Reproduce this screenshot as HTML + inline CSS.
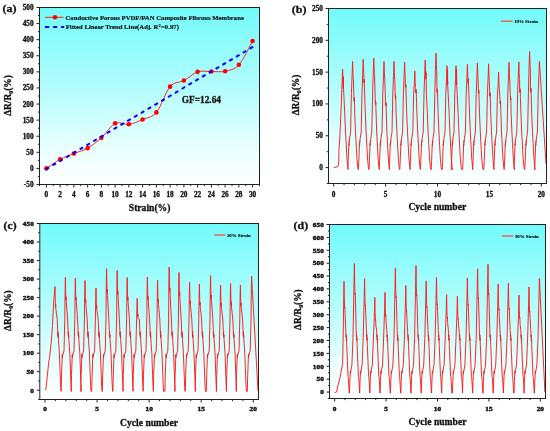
<!DOCTYPE html>
<html><head><meta charset="utf-8"><style>
html,body{margin:0;padding:0;background:#fff;}
body{width:550px;height:431px;overflow:hidden;font-family:"Liberation Serif",serif;}
svg{display:block;will-change:transform;}
text{stroke:#111;stroke-width:0.3px;}
.lg text{stroke-width:0.18px;}
text.sl{stroke:#000;stroke-width:0.1px;}
.sm text{stroke-width:0.42px;}
</style></head><body>
<svg width="550" height="431" viewBox="0 0 550 431">
<rect width="550" height="431" fill="#fff"/>
<defs><linearGradient id="ga" x1="0" y1="0" x2="0" y2="1"><stop offset="0" stop-color="rgb(114,251,251)"/><stop offset="0.5" stop-color="rgb(186,253,253)"/><stop offset="0.8" stop-color="rgb(234,255,255)"/><stop offset="1" stop-color="#ffffff"/></linearGradient></defs>
<rect x="39.5" y="7.5" width="220.0" height="177.0" fill="url(#ga)"/>
<path d="M46.38 168.41 C48.67 166.91 55.54 161.87 60.12 159.40 C64.71 156.93 69.29 155.48 73.88 153.61 C78.46 151.73 83.04 150.76 87.62 148.13 C92.21 145.51 96.79 141.97 101.38 137.84 C105.96 133.71 110.54 125.61 115.12 123.35 C119.71 121.10 124.29 124.96 128.88 124.32 C133.46 123.68 138.04 121.48 142.62 119.49 C147.21 117.51 151.79 117.88 156.38 112.41 C160.96 106.94 165.54 91.98 170.12 86.67 C174.71 81.36 179.29 83.02 183.88 80.55 C188.46 78.09 193.04 73.37 197.62 71.86 C202.21 70.36 206.79 71.65 211.38 71.54 C215.96 71.43 220.54 72.35 225.12 71.22 C229.71 70.09 234.29 69.83 238.88 64.78 C243.46 59.74 250.33 44.94 252.62 40.97" stroke="#ff2020" stroke-width="1" fill="none"/>
<circle cx="46.38" cy="168.41" r="2.3" fill="#ff0000"/>
<circle cx="60.12" cy="159.40" r="2.3" fill="#ff0000"/>
<circle cx="73.88" cy="153.61" r="2.3" fill="#ff0000"/>
<circle cx="87.62" cy="148.13" r="2.3" fill="#ff0000"/>
<circle cx="101.38" cy="137.84" r="2.3" fill="#ff0000"/>
<circle cx="115.12" cy="123.35" r="2.3" fill="#ff0000"/>
<circle cx="128.88" cy="124.32" r="2.3" fill="#ff0000"/>
<circle cx="142.62" cy="119.49" r="2.3" fill="#ff0000"/>
<circle cx="156.38" cy="112.41" r="2.3" fill="#ff0000"/>
<circle cx="170.12" cy="86.67" r="2.3" fill="#ff0000"/>
<circle cx="183.88" cy="80.55" r="2.3" fill="#ff0000"/>
<circle cx="197.62" cy="71.86" r="2.3" fill="#ff0000"/>
<circle cx="211.38" cy="71.54" r="2.3" fill="#ff0000"/>
<circle cx="225.12" cy="71.22" r="2.3" fill="#ff0000"/>
<circle cx="238.88" cy="64.78" r="2.3" fill="#ff0000"/>
<circle cx="252.62" cy="40.97" r="2.3" fill="#ff0000"/>
<line x1="45.69" y1="169.46" x2="253.31" y2="46.61" stroke="#0000ff" stroke-width="2.0" stroke-dasharray="4 3.9"/>
<line x1="45" y1="17.3" x2="63.6" y2="17.3" stroke="#ff2020" stroke-width="1"/>
<circle cx="54.9" cy="17.3" r="2.3" fill="#ff0000"/>
<line x1="45" y1="27" x2="64.2" y2="27" stroke="#0000ff" stroke-width="2.2" stroke-dasharray="4.2 3.8"/>
<g class="lg" font-family='"Liberation Serif", serif' font-weight="bold" font-size="7.15" fill="#111"><text x="65.5" y="19.7" textLength="178.4" lengthAdjust="spacingAndGlyphs">Conductive Porous PVDF/PAN Composite Fibrous Membrane</text><text x="65.7" y="29.4" textLength="92.6" lengthAdjust="spacingAndGlyphs">Fitted Linear Trend Line(Adj. R</text><text x="158.4" y="26.7" font-size="4.6">2</text><text x="161.0" y="29.4" textLength="17.9" lengthAdjust="spacingAndGlyphs">=0.97)</text></g>
<text x="181.8" y="102.6" font-family='"Liberation Serif", serif' font-weight="bold" font-size="9.3" fill="#111">GF=12.64</text>
<rect x="39.5" y="7.5" width="220.0" height="177.0" fill="none" stroke="#222" stroke-width="1"/>
<path d="M39.50 184.5v1.6 M46.38 184.5v3 M53.25 184.5v1.6 M60.12 184.5v3 M67.00 184.5v1.6 M73.88 184.5v3 M80.75 184.5v1.6 M87.62 184.5v3 M94.50 184.5v1.6 M101.38 184.5v3 M108.25 184.5v1.6 M115.12 184.5v3 M122.00 184.5v1.6 M128.88 184.5v3 M135.75 184.5v1.6 M142.62 184.5v3 M149.50 184.5v1.6 M156.38 184.5v3 M163.25 184.5v1.6 M170.12 184.5v3 M177.00 184.5v1.6 M183.88 184.5v3 M190.75 184.5v1.6 M197.62 184.5v3 M204.50 184.5v1.6 M211.38 184.5v3 M218.25 184.5v1.6 M225.12 184.5v3 M232.00 184.5v1.6 M238.88 184.5v3 M245.75 184.5v1.6 M252.62 184.5v3 M259.50 184.5v1.6 M39.5 184.50h-3 M39.5 176.45h-1.6 M39.5 168.41h-3 M39.5 160.36h-1.6 M39.5 152.32h-3 M39.5 144.27h-1.6 M39.5 136.23h-3 M39.5 128.18h-1.6 M39.5 120.14h-3 M39.5 112.09h-1.6 M39.5 104.05h-3 M39.5 96.00h-1.6 M39.5 87.95h-3 M39.5 79.91h-1.6 M39.5 71.86h-3 M39.5 63.82h-1.6 M39.5 55.77h-3 M39.5 47.73h-1.6 M39.5 39.68h-3 M39.5 31.64h-1.6 M39.5 23.59h-3 M39.5 15.55h-1.6 M39.5 7.50h-3" stroke="#222" stroke-width="1" fill="none"/>
<g font-family='"Liberation Serif", serif' font-weight="bold" font-size="7.4" fill="#111"><text x="46.38" y="196.6" text-anchor="middle" textLength="3.65" lengthAdjust="spacingAndGlyphs">0</text><text x="60.12" y="196.6" text-anchor="middle" textLength="3.65" lengthAdjust="spacingAndGlyphs">2</text><text x="73.88" y="196.6" text-anchor="middle" textLength="3.65" lengthAdjust="spacingAndGlyphs">4</text><text x="87.62" y="196.6" text-anchor="middle" textLength="3.65" lengthAdjust="spacingAndGlyphs">6</text><text x="101.38" y="196.6" text-anchor="middle" textLength="3.65" lengthAdjust="spacingAndGlyphs">8</text><text x="115.12" y="196.6" text-anchor="middle" textLength="7.30" lengthAdjust="spacingAndGlyphs">10</text><text x="128.88" y="196.6" text-anchor="middle" textLength="7.30" lengthAdjust="spacingAndGlyphs">12</text><text x="142.62" y="196.6" text-anchor="middle" textLength="7.30" lengthAdjust="spacingAndGlyphs">14</text><text x="156.38" y="196.6" text-anchor="middle" textLength="7.30" lengthAdjust="spacingAndGlyphs">16</text><text x="170.12" y="196.6" text-anchor="middle" textLength="7.30" lengthAdjust="spacingAndGlyphs">18</text><text x="183.88" y="196.6" text-anchor="middle" textLength="7.30" lengthAdjust="spacingAndGlyphs">20</text><text x="197.62" y="196.6" text-anchor="middle" textLength="7.30" lengthAdjust="spacingAndGlyphs">22</text><text x="211.38" y="196.6" text-anchor="middle" textLength="7.30" lengthAdjust="spacingAndGlyphs">24</text><text x="225.12" y="196.6" text-anchor="middle" textLength="7.30" lengthAdjust="spacingAndGlyphs">26</text><text x="238.88" y="196.6" text-anchor="middle" textLength="7.30" lengthAdjust="spacingAndGlyphs">28</text><text x="252.62" y="196.6" text-anchor="middle" textLength="7.30" lengthAdjust="spacingAndGlyphs">30</text><text x="33.6" y="187.00" text-anchor="end" textLength="9.73" lengthAdjust="spacingAndGlyphs">-50</text><text x="33.6" y="170.91" text-anchor="end" textLength="3.65" lengthAdjust="spacingAndGlyphs">0</text><text x="33.6" y="154.82" text-anchor="end" textLength="7.30" lengthAdjust="spacingAndGlyphs">50</text><text x="33.6" y="138.73" text-anchor="end" textLength="10.95" lengthAdjust="spacingAndGlyphs">100</text><text x="33.6" y="122.64" text-anchor="end" textLength="10.95" lengthAdjust="spacingAndGlyphs">150</text><text x="33.6" y="106.55" text-anchor="end" textLength="10.95" lengthAdjust="spacingAndGlyphs">200</text><text x="33.6" y="90.45" text-anchor="end" textLength="10.95" lengthAdjust="spacingAndGlyphs">250</text><text x="33.6" y="74.36" text-anchor="end" textLength="10.95" lengthAdjust="spacingAndGlyphs">300</text><text x="33.6" y="58.27" text-anchor="end" textLength="10.95" lengthAdjust="spacingAndGlyphs">350</text><text x="33.6" y="42.18" text-anchor="end" textLength="10.95" lengthAdjust="spacingAndGlyphs">400</text><text x="33.6" y="26.09" text-anchor="end" textLength="10.95" lengthAdjust="spacingAndGlyphs">450</text><text x="33.6" y="10.00" text-anchor="end" textLength="10.95" lengthAdjust="spacingAndGlyphs">500</text></g>
<text transform="translate(10.8,95.5) rotate(-90)" text-anchor="middle" font-family='"Liberation Serif", serif' font-weight="bold" font-size="9.4" fill="#111">&#916;R/R<tspan font-size="5.83" dy="2">0</tspan><tspan dy="-2">(%)</tspan></text>
<text x="149.6" y="210.5" text-anchor="middle" font-family='"Liberation Serif", serif' font-weight="bold" font-size="9.6" fill="#111">Strain(%)</text>
<text x="2.5" y="12.0" font-family='"Liberation Serif", serif' font-weight="bold" font-size="11.2" fill="#111" textLength="14.0" lengthAdjust="spacingAndGlyphs">(a)</text>
<defs><linearGradient id="gb" x1="0" y1="0" x2="0" y2="1"><stop offset="0" stop-color="rgb(114,251,251)"/><stop offset="0.5" stop-color="rgb(186,253,253)"/><stop offset="0.8" stop-color="rgb(234,255,255)"/><stop offset="1" stop-color="#ffffff"/></linearGradient></defs>
<rect x="328.5" y="8.5" width="218.0" height="175.0" fill="url(#gb)"/>
<path d="M333.69 167.59 L337.64 166.64 L338.36 165.05 L338.78 161.23 L338.98 149.77 L339.92 135.77 L341.16 107.14 L342.60 69.27 L343.00 80.73 L343.20 85.82 L343.40 87.09 L343.11 88.36 L343.21 76.59 L343.31 80.41 L343.41 78.50 L343.56 89.64 L343.80 93.77 L344.70 112.86 L345.50 131.95 L346.90 158.05 L347.80 167.59 L348.20 169.50 L347.80 169.50 L348.20 161.23 L348.90 143.41 L349.00 145.32 L349.15 140.86 L349.30 142.14 L349.50 138.95 L350.60 131.95 L351.40 93.77 L352.10 75.45 L352.60 61.45 L353.00 72.90 L353.20 77.99 L353.40 79.26 L353.88 96.95 L354.13 100.77 L354.23 97.59 L354.33 101.41 L354.43 99.50 L354.58 105.23 L354.70 112.86 L355.50 131.95 L356.90 158.05 L357.80 167.59 L358.20 169.50 L358.40 169.50 L358.80 161.23 L359.50 143.41 L359.60 145.32 L359.75 140.86 L359.90 142.14 L360.10 138.95 L361.20 131.95 L362.00 93.77 L362.70 73.41 L363.20 59.41 L363.60 70.86 L363.80 75.95 L364.00 77.23 L364.00 82.32 L364.10 79.14 L364.20 82.95 L364.30 81.05 L364.45 86.77 L365.30 112.86 L366.10 131.95 L367.50 158.05 L368.40 167.59 L368.80 169.50 L369.00 169.50 L369.40 161.23 L370.10 143.41 L370.20 145.32 L370.35 140.86 L370.50 142.14 L370.70 138.95 L371.80 131.95 L372.60 93.77 L373.30 72.26 L373.80 58.26 L374.20 69.72 L374.40 74.81 L374.60 76.08 L375.23 100.14 L375.48 103.95 L375.58 100.77 L375.68 104.59 L375.78 102.68 L375.93 108.41 L376.70 131.95 L378.10 158.05 L379.00 167.59 L379.40 169.50 L379.20 169.50 L379.60 161.23 L380.30 143.41 L380.40 145.32 L380.55 140.86 L380.70 142.14 L380.90 138.95 L382.00 131.95 L382.80 93.77 L383.50 75.45 L384.00 61.45 L384.40 72.90 L384.60 77.99 L384.80 79.26 L385.49 101.41 L385.74 105.23 L385.84 102.05 L385.94 105.86 L386.04 103.95 L386.19 109.68 L386.90 131.95 L388.30 158.05 L389.20 167.59 L389.60 169.50 L389.20 169.50 L389.60 161.23 L390.30 143.41 L390.40 145.32 L390.55 140.86 L390.70 142.14 L390.90 138.95 L392.00 131.95 L392.80 93.77 L393.50 75.45 L394.00 61.45 L394.40 72.90 L394.60 77.99 L394.80 79.26 L395.13 93.77 L395.38 97.59 L395.48 94.41 L395.58 98.23 L395.68 96.32 L395.83 102.05 L396.10 112.86 L396.90 131.95 L398.30 158.05 L399.20 167.59 L399.60 169.50 L399.80 169.50 L400.20 161.23 L400.90 143.41 L401.00 145.32 L401.15 140.86 L401.30 142.14 L401.50 138.95 L402.60 131.95 L403.40 93.77 L404.10 75.95 L404.60 61.95 L405.00 73.41 L405.20 78.50 L405.40 79.77 L405.29 82.95 L405.54 86.77 L405.64 83.59 L405.74 87.41 L405.84 85.50 L405.99 91.23 L406.70 112.86 L407.50 131.95 L408.90 158.05 L409.80 167.59 L410.20 169.50 L410.00 169.50 L410.40 161.23 L411.10 143.41 L411.20 145.32 L411.35 140.86 L411.50 142.14 L411.70 138.95 L412.80 131.95 L413.60 93.77 L414.30 84.86 L414.80 70.86 L415.20 82.32 L415.40 87.41 L415.60 88.68 L415.68 89.95 L415.93 92.50 L416.03 89.32 L416.13 93.14 L416.23 91.23 L416.38 96.95 L416.90 112.86 L417.70 131.95 L419.10 158.05 L420.00 167.59 L420.40 169.50 L420.40 169.50 L420.80 161.23 L421.50 143.41 L421.60 145.32 L421.75 140.86 L421.90 142.14 L422.10 138.95 L423.20 131.95 L424.00 93.77 L424.70 74.05 L425.20 60.05 L425.60 71.50 L425.80 76.59 L426.00 77.86 L425.72 79.14 L425.82 71.50 L425.92 75.32 L426.02 73.41 L426.17 80.41 L426.40 93.77 L427.30 112.86 L428.10 131.95 L429.50 158.05 L430.40 167.59 L430.80 169.50 L431.20 169.50 L431.60 161.23 L432.30 143.41 L432.40 145.32 L432.55 140.86 L432.70 142.14 L432.90 138.95 L434.00 131.95 L434.80 93.77 L435.50 67.05 L436.00 53.05 L436.40 64.50 L436.60 69.59 L436.80 70.86 L436.89 88.05 L437.14 91.86 L437.24 88.68 L437.34 92.50 L437.44 90.59 L437.59 96.32 L438.10 112.86 L438.90 131.95 L440.30 158.05 L441.20 167.59 L441.60 169.50 L442.20 169.50 L442.60 161.23 L443.30 143.41 L443.40 145.32 L443.55 140.86 L443.70 142.14 L443.90 138.95 L445.00 131.95 L445.80 93.77 L446.50 79.77 L447.00 65.77 L447.40 77.23 L447.60 82.32 L447.80 83.59 L447.27 84.86 L447.37 68.95 L447.47 72.77 L447.57 70.86 L447.72 86.14 L448.20 93.77 L449.10 112.86 L449.90 131.95 L451.30 158.05 L452.20 167.59 L452.60 169.50 L451.20 169.50 L451.60 161.23 L452.30 143.41 L452.40 145.32 L452.55 140.86 L452.70 142.14 L452.90 138.95 L454.00 131.95 L454.80 93.77 L455.50 79.77 L456.00 65.77 L456.40 77.23 L456.60 82.32 L456.80 83.59 L456.27 84.86 L456.37 68.95 L456.47 72.77 L456.57 70.86 L456.72 86.14 L457.20 93.77 L458.10 112.86 L458.90 131.95 L460.30 158.05 L461.20 167.59 L461.60 169.50 L462.60 169.50 L463.00 161.23 L463.70 143.41 L463.80 145.32 L463.95 140.86 L464.10 142.14 L464.30 138.95 L465.40 131.95 L466.20 93.77 L466.90 78.50 L467.40 64.50 L467.80 75.95 L468.00 81.05 L468.20 82.32 L468.10 83.59 L468.20 78.50 L468.30 82.32 L468.40 80.41 L468.55 86.14 L469.50 112.86 L470.30 131.95 L471.70 158.05 L472.60 167.59 L473.00 169.50 L472.60 169.50 L473.00 161.23 L473.70 143.41 L473.80 145.32 L473.95 140.86 L474.10 142.14 L474.30 138.95 L475.40 131.95 L476.20 93.77 L476.90 76.85 L477.40 62.85 L477.80 74.30 L478.00 79.39 L478.20 80.66 L478.30 88.68 L478.55 92.50 L478.65 89.32 L478.75 93.14 L478.85 91.23 L479.00 96.95 L479.50 112.86 L480.30 131.95 L481.70 158.05 L482.60 167.59 L483.00 169.50 L483.80 169.50 L484.20 161.23 L484.90 143.41 L485.00 145.32 L485.15 140.86 L485.30 142.14 L485.50 138.95 L486.60 131.95 L487.40 93.77 L488.10 77.86 L488.60 63.86 L489.00 75.32 L489.20 80.41 L489.40 81.68 L489.64 91.86 L489.89 95.68 L489.99 92.50 L490.09 96.32 L490.19 94.41 L490.34 100.14 L490.70 112.86 L491.50 131.95 L492.90 158.05 L493.80 167.59 L494.20 169.50 L493.80 169.50 L494.20 161.23 L494.90 143.41 L495.00 145.32 L495.15 140.86 L495.30 142.14 L495.50 138.95 L496.60 131.95 L497.40 93.77 L498.10 86.14 L498.60 72.14 L499.00 83.59 L499.20 88.68 L499.40 89.95 L500.03 100.14 L500.28 103.95 L500.38 100.77 L500.48 104.59 L500.58 102.68 L500.73 108.41 L501.50 131.95 L502.90 158.05 L503.80 167.59 L504.20 169.50 L504.20 169.50 L504.60 161.23 L505.30 143.41 L505.40 145.32 L505.55 140.86 L505.70 142.14 L505.90 138.95 L507.00 131.95 L507.80 93.77 L508.50 76.27 L509.00 62.27 L509.40 73.73 L509.60 78.82 L509.80 80.09 L510.22 95.68 L510.47 99.50 L510.57 96.32 L510.67 100.14 L510.77 98.23 L510.92 103.95 L511.10 112.86 L511.90 131.95 L513.30 158.05 L514.20 167.59 L514.60 169.50 L514.00 169.50 L514.40 161.23 L515.10 143.41 L515.20 145.32 L515.35 140.86 L515.50 142.14 L515.70 138.95 L516.80 131.95 L517.60 93.77 L518.30 75.95 L518.80 61.95 L519.20 73.41 L519.40 78.50 L519.60 79.77 L519.68 88.05 L519.93 91.86 L520.03 88.68 L520.13 92.50 L520.23 90.59 L520.38 96.32 L520.90 112.86 L521.70 131.95 L523.10 158.05 L524.00 167.59 L524.40 169.50 L524.80 169.50 L525.20 161.23 L525.90 143.41 L526.00 145.32 L526.15 140.86 L526.30 142.14 L526.50 138.95 L527.60 131.95 L528.40 93.77 L529.10 65.52 L529.60 51.52 L530.00 62.97 L530.20 68.06 L530.40 69.34 L530.48 87.41 L530.73 91.23 L530.83 88.05 L530.93 91.86 L531.03 89.95 L531.18 95.68 L531.70 112.86 L532.50 131.95 L533.90 158.05 L534.80 167.59 L535.20 169.50 L534.60 169.50 L535.00 161.23 L535.70 143.41 L535.80 145.32 L535.95 140.86 L536.10 142.14 L536.30 138.95 L537.40 131.95 L538.20 93.77 L538.90 75.45 L539.40 61.45 L546.00 163.77" stroke="#ff1a1a" stroke-width="0.95" fill="none" stroke-linejoin="round"/>
<line x1="501" y1="21.2" x2="512.6" y2="21.2" stroke="#ff4030" stroke-width="1.2"/>
<text class="sl" x="514.2" y="22.7" font-family='"Liberation Serif", serif' font-weight="bold" font-size="4.85" fill="#000">10% Strain</text>
<rect x="328.5" y="8.5" width="218.0" height="175.0" fill="none" stroke="#222" stroke-width="1"/>
<path d="M333.69 183.5v3 M344.07 183.5v1.6 M354.45 183.5v1.6 M364.83 183.5v1.6 M375.21 183.5v1.6 M385.60 183.5v3 M395.98 183.5v1.6 M406.36 183.5v1.6 M416.74 183.5v1.6 M427.12 183.5v1.6 M437.50 183.5v3 M447.88 183.5v1.6 M458.26 183.5v1.6 M468.64 183.5v1.6 M479.02 183.5v1.6 M489.40 183.5v3 M499.79 183.5v1.6 M510.17 183.5v1.6 M520.55 183.5v1.6 M530.93 183.5v1.6 M541.31 183.5v3 M328.5 183.50h-1.6 M328.5 167.59h-3 M328.5 151.68h-1.6 M328.5 135.77h-3 M328.5 119.86h-1.6 M328.5 103.95h-3 M328.5 88.05h-1.6 M328.5 72.14h-3 M328.5 56.23h-1.6 M328.5 40.32h-3 M328.5 24.41h-1.6 M328.5 8.50h-3" stroke="#222" stroke-width="1" fill="none"/>
<g font-family='"Liberation Serif", serif' font-weight="bold" font-size="7.4" fill="#111"><text x="333.69" y="196.7" text-anchor="middle" textLength="3.65" lengthAdjust="spacingAndGlyphs">0</text><text x="385.60" y="196.7" text-anchor="middle" textLength="3.65" lengthAdjust="spacingAndGlyphs">5</text><text x="437.50" y="196.7" text-anchor="middle" textLength="7.30" lengthAdjust="spacingAndGlyphs">10</text><text x="489.40" y="196.7" text-anchor="middle" textLength="7.30" lengthAdjust="spacingAndGlyphs">15</text><text x="541.31" y="196.7" text-anchor="middle" textLength="7.30" lengthAdjust="spacingAndGlyphs">20</text><text x="323.0" y="170.09" text-anchor="end" textLength="3.65" lengthAdjust="spacingAndGlyphs">0</text><text x="323.0" y="138.27" text-anchor="end" textLength="7.30" lengthAdjust="spacingAndGlyphs">50</text><text x="323.0" y="106.45" text-anchor="end" textLength="10.95" lengthAdjust="spacingAndGlyphs">100</text><text x="323.0" y="74.64" text-anchor="end" textLength="10.95" lengthAdjust="spacingAndGlyphs">150</text><text x="323.0" y="42.82" text-anchor="end" textLength="10.95" lengthAdjust="spacingAndGlyphs">200</text><text x="323.0" y="11.00" text-anchor="end" textLength="10.95" lengthAdjust="spacingAndGlyphs">250</text></g>
<text transform="translate(298.5,95.0) rotate(-90)" text-anchor="middle" font-family='"Liberation Serif", serif' font-weight="bold" font-size="9.4" fill="#111">&#916;R/R<tspan font-size="5.83" dy="2">0</tspan><tspan dy="-2">(%)</tspan></text>
<text x="437.3" y="209.7" text-anchor="middle" font-family='"Liberation Serif", serif' font-weight="bold" font-size="9.6" fill="#111">Cycle number</text>
<text x="291.8" y="12.8" font-family='"Liberation Serif", serif' font-weight="bold" font-size="11.2" fill="#111" textLength="14.6" lengthAdjust="spacingAndGlyphs">(b)</text>
<defs><linearGradient id="gc" x1="0" y1="0" x2="0" y2="1"><stop offset="0" stop-color="rgb(114,251,251)"/><stop offset="0.5" stop-color="rgb(186,253,253)"/><stop offset="0.8" stop-color="rgb(234,255,255)"/><stop offset="1" stop-color="#ffffff"/></linearGradient></defs>
<rect x="39.8" y="223.5" width="218.7" height="176.0" fill="url(#gc)"/>
<path d="M45.01 390.24 L45.63 389.87 L46.05 388.01 L48.13 368.01 L48.96 360.59 L49.38 359.11 L51.26 342.07 L52.51 325.39 L53.55 303.16 L55.00 286.60 L55.30 301.11 L55.50 307.33 L55.70 304.22 L55.90 309.40 L57.20 319.10 L57.70 330.95 L57.85 335.40 L58.00 331.69 L58.15 337.62 L58.30 334.66 L58.50 339.85 L59.40 353.18 L60.50 382.83 L61.00 391.35 L61.10 391.35 L61.50 375.42 L62.10 359.11 L62.25 354.67 L62.40 357.63 L62.55 353.93 L62.70 355.04 L64.00 350.96 L64.80 319.10 L65.10 290.95 L65.40 277.41 L65.70 293.21 L65.90 299.98 L66.10 296.59 L66.30 302.23 L67.60 319.10 L68.10 330.95 L68.25 335.40 L68.40 331.69 L68.55 337.62 L68.70 334.66 L68.90 339.85 L69.80 353.18 L70.90 382.83 L71.40 391.35 L71.10 391.35 L71.50 375.42 L72.10 359.11 L72.25 354.67 L72.40 357.63 L72.55 353.93 L72.70 355.04 L74.00 350.96 L74.80 319.10 L75.10 291.44 L75.40 277.97 L75.70 293.69 L75.90 300.42 L76.10 297.05 L76.30 302.67 L77.60 319.10 L78.10 330.95 L78.25 335.40 L78.40 331.69 L78.55 337.62 L78.70 334.66 L78.90 339.85 L79.80 353.18 L80.90 382.83 L81.40 391.35 L80.70 391.35 L81.10 375.42 L81.70 359.11 L81.85 354.67 L82.00 357.63 L82.15 353.93 L82.30 355.04 L83.60 350.96 L84.40 319.10 L84.70 293.72 L85.00 280.56 L85.30 295.92 L85.50 302.50 L85.70 299.21 L85.90 304.69 L87.20 319.10 L87.70 330.95 L87.85 335.40 L88.00 331.69 L88.15 337.62 L88.30 334.66 L88.50 339.85 L89.40 353.18 L90.50 382.83 L91.00 391.35 L91.70 391.35 L92.10 375.42 L92.70 359.11 L92.85 354.67 L93.00 357.63 L93.15 353.93 L93.30 355.04 L94.60 350.96 L95.40 319.10 L95.70 300.24 L96.00 287.97 L96.30 302.29 L96.50 308.42 L96.70 305.36 L96.90 310.47 L98.20 319.10 L98.70 330.95 L98.85 335.40 L99.00 331.69 L99.15 337.62 L99.30 334.66 L99.50 339.85 L100.40 353.18 L101.50 382.83 L102.00 391.35 L102.30 391.35 L102.70 375.42 L103.30 359.11 L103.45 354.67 L103.60 357.63 L103.75 353.93 L103.90 355.04 L105.20 350.96 L106.00 319.10 L106.30 283.29 L106.60 268.70 L106.90 285.72 L107.10 293.01 L107.30 289.36 L107.50 295.44 L108.80 319.10 L109.30 330.95 L109.45 335.40 L109.60 331.69 L109.75 337.62 L109.90 334.66 L110.10 339.85 L111.00 353.18 L112.10 382.83 L112.60 391.35 L112.90 391.35 L113.30 375.42 L113.90 359.11 L114.05 354.67 L114.20 357.63 L114.35 353.93 L114.50 355.04 L115.80 350.96 L116.60 319.10 L116.90 284.92 L117.20 270.56 L117.50 287.31 L117.70 294.49 L117.90 290.90 L118.10 296.89 L119.40 319.10 L119.90 330.95 L120.05 335.40 L120.20 331.69 L120.35 337.62 L120.50 334.66 L120.70 339.85 L121.60 353.18 L122.70 382.83 L123.20 391.35 L122.90 391.35 L123.30 375.42 L123.90 359.11 L124.05 354.67 L124.20 357.63 L124.35 353.93 L124.50 355.04 L125.80 350.96 L126.60 319.10 L126.90 291.11 L127.20 277.60 L127.50 293.37 L127.70 300.12 L127.90 296.75 L128.10 302.38 L129.40 319.10 L129.90 330.95 L130.05 335.40 L130.20 331.69 L130.35 337.62 L130.50 334.66 L130.70 339.85 L131.60 353.18 L132.70 382.83 L133.20 391.35 L132.90 391.35 L133.30 375.42 L133.90 359.11 L134.05 354.67 L134.20 357.63 L134.35 353.93 L134.50 355.04 L135.80 350.96 L136.60 319.10 L136.90 309.37 L137.20 298.35 L137.50 311.21 L137.70 316.72 L137.90 313.97 L138.10 318.56 L139.40 319.30 L139.90 330.95 L140.05 335.40 L140.20 331.69 L140.35 337.62 L140.50 334.66 L140.70 339.85 L141.60 353.18 L142.70 382.83 L143.20 391.35 L143.10 391.35 L143.50 375.42 L144.10 359.11 L144.25 354.67 L144.40 357.63 L144.55 353.93 L144.70 355.04 L146.00 350.96 L146.80 319.10 L147.10 290.59 L147.40 277.00 L147.70 292.86 L147.90 299.65 L148.10 296.25 L148.30 301.92 L149.60 319.10 L150.10 330.95 L150.25 335.40 L150.40 331.69 L150.55 337.62 L150.70 334.66 L150.90 339.85 L151.80 353.18 L152.90 382.83 L153.40 391.35 L153.30 391.35 L153.70 375.42 L154.30 359.11 L154.45 354.67 L154.60 357.63 L154.75 353.93 L154.90 355.04 L156.20 350.96 L157.00 319.10 L157.30 293.56 L157.60 280.38 L157.90 295.76 L158.10 302.35 L158.30 299.05 L158.50 304.55 L159.80 319.10 L160.30 330.95 L160.45 335.40 L160.60 331.69 L160.75 337.62 L160.90 334.66 L161.10 339.85 L162.00 353.18 L163.10 382.83 L163.60 391.35 L164.90 391.35 L165.30 375.42 L165.90 359.11 L166.05 354.67 L166.20 357.63 L166.35 353.93 L166.50 355.04 L167.80 350.96 L168.60 319.10 L168.90 281.79 L169.20 267.00 L169.50 284.25 L169.70 291.65 L169.90 287.95 L170.10 294.11 L171.40 319.10 L171.90 330.95 L172.05 335.40 L172.20 331.69 L172.35 337.62 L172.50 334.66 L172.70 339.85 L173.60 353.18 L174.70 382.83 L175.20 391.35 L174.70 391.35 L175.10 375.42 L175.70 359.11 L175.85 354.67 L176.00 357.63 L176.15 353.93 L176.30 355.04 L177.60 350.96 L178.40 319.10 L178.70 286.55 L179.00 272.41 L179.30 288.91 L179.50 295.97 L179.70 292.44 L179.90 298.33 L181.20 319.10 L181.70 330.95 L181.85 335.40 L182.00 331.69 L182.15 337.62 L182.30 334.66 L182.50 339.85 L183.40 353.18 L184.50 382.83 L185.00 391.35 L185.30 391.35 L185.70 375.42 L186.30 359.11 L186.45 354.67 L186.60 357.63 L186.75 353.93 L186.90 355.04 L188.20 350.96 L189.00 319.10 L189.30 295.35 L189.60 282.41 L189.90 297.51 L190.10 303.98 L190.30 300.74 L190.50 306.13 L191.80 319.10 L192.30 330.95 L192.45 335.40 L192.60 331.69 L192.75 337.62 L192.90 334.66 L193.10 339.85 L194.00 353.18 L195.10 382.83 L195.60 391.35 L195.10 391.35 L195.50 375.42 L196.10 359.11 L196.25 354.67 L196.40 357.63 L196.55 353.93 L196.70 355.04 L198.00 350.96 L198.80 319.10 L199.10 296.72 L199.40 283.97 L199.70 298.85 L199.90 305.22 L200.10 302.04 L200.30 307.35 L201.60 319.10 L202.10 330.95 L202.25 335.40 L202.40 331.69 L202.55 337.62 L202.70 334.66 L202.90 339.85 L203.80 353.18 L204.90 382.83 L205.40 391.35 L206.30 391.35 L206.70 375.42 L207.30 359.11 L207.45 354.67 L207.60 357.63 L207.75 353.93 L207.90 355.04 L209.20 350.96 L210.00 319.10 L210.30 289.35 L210.60 275.60 L210.90 291.65 L211.10 298.52 L211.30 295.08 L211.50 300.82 L212.80 319.10 L213.30 330.95 L213.45 335.40 L213.60 331.69 L213.75 337.62 L213.90 334.66 L214.10 339.85 L215.00 353.18 L216.10 382.83 L216.60 391.35 L216.30 391.35 L216.70 375.42 L217.30 359.11 L217.45 354.67 L217.60 357.63 L217.75 353.93 L217.90 355.04 L219.20 350.96 L220.00 319.10 L220.30 297.63 L220.60 285.01 L220.90 299.74 L221.10 306.05 L221.30 302.90 L221.50 308.16 L222.80 319.10 L223.30 330.95 L223.45 335.40 L223.60 331.69 L223.75 337.62 L223.90 334.66 L224.10 339.85 L225.00 353.18 L226.10 382.83 L226.60 391.35 L226.30 391.35 L226.70 375.42 L227.30 359.11 L227.45 354.67 L227.60 357.63 L227.75 353.93 L227.90 355.04 L229.20 350.96 L230.00 319.10 L230.30 296.40 L230.60 283.60 L230.90 298.53 L231.10 304.93 L231.30 301.73 L231.50 307.06 L232.80 319.10 L233.30 330.95 L233.45 335.40 L233.60 331.69 L233.75 337.62 L233.90 334.66 L234.10 339.85 L235.00 353.18 L236.10 382.83 L236.60 391.35 L236.10 391.35 L236.50 375.42 L237.10 359.11 L237.25 354.67 L237.40 357.63 L237.55 353.93 L237.70 355.04 L239.00 350.96 L239.80 319.10 L240.10 297.63 L240.40 285.01 L240.70 299.74 L240.90 306.05 L241.10 302.90 L241.30 308.16 L242.60 319.10 L243.10 330.95 L243.25 335.40 L243.40 331.69 L243.55 337.62 L243.70 334.66 L243.90 339.85 L244.80 353.18 L245.90 382.83 L246.40 391.35 L247.30 391.35 L247.70 375.42 L248.30 359.11 L248.45 354.67 L248.60 357.63 L248.75 353.93 L248.90 355.04 L250.20 350.96 L251.00 319.10 L251.30 289.81 L251.60 276.11 L258.00 390.98" stroke="#ff1a1a" stroke-width="0.95" fill="none" stroke-linejoin="round"/>
<line x1="214.2" y1="235" x2="225.3" y2="235" stroke="#ff4030" stroke-width="1.2"/>
<text class="sl" x="226.9" y="236.5" font-family='"Liberation Serif", serif' font-weight="bold" font-size="4.85" fill="#000">20% Strain</text>
<rect x="39.8" y="223.5" width="218.7" height="176.0" fill="none" stroke="#222" stroke-width="1"/>
<path d="M45.01 399.5v3 M55.42 399.5v1.6 M65.84 399.5v1.6 M76.25 399.5v1.6 M86.66 399.5v1.6 M97.08 399.5v3 M107.49 399.5v1.6 M117.91 399.5v1.6 M128.32 399.5v1.6 M138.74 399.5v1.6 M149.15 399.5v3 M159.56 399.5v1.6 M169.98 399.5v1.6 M180.39 399.5v1.6 M190.81 399.5v1.6 M201.22 399.5v3 M211.64 399.5v1.6 M222.05 399.5v1.6 M232.46 399.5v1.6 M242.88 399.5v1.6 M253.29 399.5v3 M39.8 399.50h-1.6 M39.8 390.24h-3 M39.8 380.97h-1.6 M39.8 371.71h-3 M39.8 362.45h-1.6 M39.8 353.18h-3 M39.8 343.92h-1.6 M39.8 334.66h-3 M39.8 325.39h-1.6 M39.8 316.13h-3 M39.8 306.87h-1.6 M39.8 297.61h-3 M39.8 288.34h-1.6 M39.8 279.08h-3 M39.8 269.82h-1.6 M39.8 260.55h-3 M39.8 251.29h-1.6 M39.8 242.03h-3 M39.8 232.76h-1.6 M39.8 223.50h-3" stroke="#222" stroke-width="1" fill="none"/>
<g class="sm" font-family='"Liberation Serif", serif' font-weight="bold" font-size="6.7" fill="#111"><text x="45.01" y="411.3" text-anchor="middle" textLength="3.65" lengthAdjust="spacingAndGlyphs">0</text><text x="97.08" y="411.3" text-anchor="middle" textLength="3.65" lengthAdjust="spacingAndGlyphs">5</text><text x="149.15" y="411.3" text-anchor="middle" textLength="7.30" lengthAdjust="spacingAndGlyphs">10</text><text x="201.22" y="411.3" text-anchor="middle" textLength="7.30" lengthAdjust="spacingAndGlyphs">15</text><text x="253.29" y="411.3" text-anchor="middle" textLength="7.30" lengthAdjust="spacingAndGlyphs">20</text><text x="33.8" y="392.54" text-anchor="end" textLength="3.65" lengthAdjust="spacingAndGlyphs">0</text><text x="33.8" y="374.01" text-anchor="end" textLength="7.30" lengthAdjust="spacingAndGlyphs">50</text><text x="33.8" y="355.48" text-anchor="end" textLength="10.95" lengthAdjust="spacingAndGlyphs">100</text><text x="33.8" y="336.96" text-anchor="end" textLength="10.95" lengthAdjust="spacingAndGlyphs">150</text><text x="33.8" y="318.43" text-anchor="end" textLength="10.95" lengthAdjust="spacingAndGlyphs">200</text><text x="33.8" y="299.91" text-anchor="end" textLength="10.95" lengthAdjust="spacingAndGlyphs">250</text><text x="33.8" y="281.38" text-anchor="end" textLength="10.95" lengthAdjust="spacingAndGlyphs">300</text><text x="33.8" y="262.85" text-anchor="end" textLength="10.95" lengthAdjust="spacingAndGlyphs">350</text><text x="33.8" y="244.33" text-anchor="end" textLength="10.95" lengthAdjust="spacingAndGlyphs">400</text><text x="33.8" y="225.80" text-anchor="end" textLength="10.95" lengthAdjust="spacingAndGlyphs">450</text></g>
<text transform="translate(11.0,310.6) rotate(-90)" text-anchor="middle" font-family='"Liberation Serif", serif' font-weight="bold" font-size="9.4" fill="#111">&#916;R/R<tspan font-size="5.83" dy="2">0</tspan><tspan dy="-2">(%)</tspan></text>
<text x="149" y="425.5" text-anchor="middle" font-family='"Liberation Serif", serif' font-weight="bold" font-size="9.6" fill="#111">Cycle number</text>
<text x="3.6" y="228.5" font-family='"Liberation Serif", serif' font-weight="bold" font-size="11.2" fill="#111" textLength="13.0" lengthAdjust="spacingAndGlyphs">(c)</text>
<defs><linearGradient id="gd" x1="0" y1="0" x2="0" y2="1"><stop offset="0" stop-color="rgb(114,251,251)"/><stop offset="0.5" stop-color="rgb(186,253,253)"/><stop offset="0.8" stop-color="rgb(234,255,255)"/><stop offset="1" stop-color="#ffffff"/></linearGradient></defs>
<rect x="329.5" y="224.5" width="216.0" height="174.0" fill="url(#gd)"/>
<path d="M334.64 392.57 L336.60 392.06 L337.93 385.61 L339.99 377.88 L341.84 368.08 L342.67 362.41 L343.08 340.50 L344.00 281.34 L344.30 299.05 L344.60 307.91 L344.80 306.80 L345.10 314.55 L345.80 330.19 L346.10 337.41 L346.25 334.83 L346.40 340.50 L346.55 337.92 L346.70 344.37 L348.00 376.33 L348.40 378.65 L348.90 386.90 L349.20 393.09 L349.45 393.09 L349.80 381.74 L350.15 374.01 L350.30 371.43 L350.45 373.50 L350.60 370.92 L350.80 371.43 L351.90 364.99 L353.00 338.18 L353.90 289.23 L354.40 263.53 L354.70 284.09 L355.00 294.37 L355.20 293.09 L355.50 302.09 L356.20 330.19 L356.50 337.41 L356.65 334.83 L356.80 340.50 L356.95 337.92 L357.10 344.37 L358.40 376.33 L358.80 378.65 L359.30 386.90 L359.60 393.09 L359.65 393.09 L360.00 381.74 L360.35 374.01 L360.50 371.43 L360.65 373.50 L360.80 370.92 L361.00 371.43 L362.10 364.99 L363.20 338.18 L364.10 301.32 L364.60 278.63 L364.90 296.78 L365.20 305.85 L365.40 304.72 L365.70 312.66 L366.40 330.19 L366.70 337.41 L366.85 334.83 L367.00 340.50 L367.15 337.92 L367.30 344.37 L368.60 376.33 L369.00 378.65 L369.50 386.90 L369.80 393.09 L369.85 393.09 L370.20 381.74 L370.55 374.01 L370.70 371.43 L370.85 373.50 L371.00 370.92 L371.20 371.43 L372.30 364.99 L373.40 338.18 L374.30 316.37 L374.80 297.45 L375.10 312.59 L375.40 320.16 L375.60 319.21 L375.90 325.83 L376.60 330.19 L376.90 337.41 L377.05 334.83 L377.20 340.50 L377.35 337.92 L377.50 344.37 L378.80 376.33 L379.20 378.65 L379.70 386.90 L380.00 393.09 L380.05 393.09 L380.40 381.74 L380.75 374.01 L380.90 371.43 L381.05 373.50 L381.20 370.92 L381.40 371.43 L382.50 364.99 L383.60 338.18 L384.50 312.29 L385.00 292.35 L385.30 308.30 L385.60 316.28 L385.80 315.28 L386.10 322.26 L386.80 330.19 L387.10 337.41 L387.25 334.83 L387.40 340.50 L387.55 337.92 L387.70 344.37 L389.00 376.33 L389.40 378.65 L389.90 386.90 L390.20 393.09 L390.45 393.09 L390.80 381.74 L391.15 374.01 L391.30 371.43 L391.45 373.50 L391.60 370.92 L391.80 371.43 L392.90 364.99 L394.00 338.18 L394.90 292.76 L395.40 267.94 L395.70 287.79 L396.00 297.72 L396.20 296.48 L396.50 305.17 L397.20 330.19 L397.50 337.41 L397.65 334.83 L397.80 340.50 L397.95 337.92 L398.10 344.37 L399.40 376.33 L399.80 378.65 L400.30 386.90 L400.60 393.09 L400.85 393.09 L401.20 381.74 L401.55 374.01 L401.70 371.43 L401.85 373.50 L402.00 370.92 L402.20 371.43 L403.30 364.99 L404.40 338.18 L405.30 306.89 L405.80 285.59 L406.10 302.63 L406.40 311.14 L406.60 310.08 L406.90 317.53 L407.60 330.19 L407.90 337.41 L408.05 334.83 L408.20 340.50 L408.35 337.92 L408.50 344.37 L409.80 376.33 L410.20 378.65 L410.70 386.90 L411.00 393.09 L411.05 393.09 L411.40 381.74 L411.75 374.01 L411.90 371.43 L412.05 373.50 L412.20 370.92 L412.40 371.43 L413.50 364.99 L414.60 338.18 L415.50 290.82 L416.00 265.51 L416.30 285.76 L416.60 295.88 L416.80 294.62 L417.10 303.48 L417.80 330.19 L418.10 337.41 L418.25 334.83 L418.40 340.50 L418.55 337.92 L418.70 344.37 L420.00 376.33 L420.40 378.65 L420.90 386.90 L421.20 393.09 L421.25 393.09 L421.60 381.74 L421.95 374.01 L422.10 371.43 L422.25 373.50 L422.40 370.92 L422.60 371.43 L423.70 364.99 L424.80 338.18 L425.70 303.17 L426.20 280.95 L426.50 298.73 L426.80 307.62 L427.00 306.51 L427.30 314.28 L428.00 330.19 L428.30 337.41 L428.45 334.83 L428.60 340.50 L428.75 337.92 L428.90 344.37 L430.20 376.33 L430.60 378.65 L431.10 386.90 L431.40 393.09 L431.55 393.09 L431.90 381.74 L432.25 374.01 L432.40 371.43 L432.55 373.50 L432.70 370.92 L432.90 371.43 L434.00 364.99 L435.10 338.18 L436.00 300.29 L436.50 277.34 L436.80 295.70 L437.10 304.88 L437.30 303.73 L437.60 311.76 L438.30 330.19 L438.60 337.41 L438.75 334.83 L438.90 340.50 L439.05 337.92 L439.20 344.37 L440.50 376.33 L440.90 378.65 L441.40 386.90 L441.70 393.09 L441.65 393.09 L442.00 381.74 L442.35 374.01 L442.50 371.43 L442.65 373.50 L442.80 370.92 L443.00 371.43 L444.10 364.99 L445.20 338.18 L446.10 314.10 L446.60 294.62 L446.90 310.21 L447.20 318.00 L447.40 317.03 L447.70 323.85 L448.40 330.19 L448.70 337.41 L448.85 334.83 L449.00 340.50 L449.15 337.92 L449.30 344.37 L450.60 376.33 L451.00 378.65 L451.50 386.90 L451.80 393.09 L452.45 393.09 L452.80 381.74 L453.15 374.01 L453.30 371.43 L453.45 373.50 L453.60 370.92 L453.80 371.43 L454.90 364.99 L456.00 338.18 L456.90 315.55 L457.40 296.42 L457.70 311.72 L458.00 319.37 L458.20 318.42 L458.50 325.11 L459.20 330.19 L459.50 337.41 L459.65 334.83 L459.80 340.50 L459.95 337.92 L460.10 344.37 L461.40 376.33 L461.80 378.65 L462.30 386.90 L462.60 393.09 L462.45 393.09 L462.80 381.74 L463.15 374.01 L463.30 371.43 L463.45 373.50 L463.60 370.92 L463.80 371.43 L464.90 364.99 L466.00 338.18 L466.90 300.76 L467.40 277.94 L467.70 296.20 L468.00 305.33 L468.20 304.18 L468.50 312.17 L469.20 330.19 L469.50 337.41 L469.65 334.83 L469.80 340.50 L469.95 337.92 L470.10 344.37 L471.40 376.33 L471.80 378.65 L472.30 386.90 L472.60 393.09 L472.65 393.09 L473.00 381.74 L473.35 374.01 L473.50 371.43 L473.65 373.50 L473.80 370.92 L474.00 371.43 L475.10 364.99 L476.20 338.18 L477.10 293.54 L477.60 268.92 L477.90 288.62 L478.20 298.47 L478.40 297.24 L478.70 305.86 L479.40 330.19 L479.70 337.41 L479.85 334.83 L480.00 340.50 L480.15 337.92 L480.30 344.37 L481.60 376.33 L482.00 378.65 L482.50 386.90 L482.80 393.09 L483.05 393.09 L483.40 381.74 L483.75 374.01 L483.90 371.43 L484.05 373.50 L484.20 370.92 L484.40 371.43 L485.50 364.99 L486.60 338.18 L487.50 289.87 L488.00 264.33 L488.30 284.76 L488.60 294.98 L488.80 293.70 L489.10 302.65 L489.80 330.19 L490.10 337.41 L490.25 334.83 L490.40 340.50 L490.55 337.92 L490.70 344.37 L492.00 376.33 L492.40 378.65 L492.90 386.90 L493.20 393.09 L493.25 393.09 L493.60 381.74 L493.95 374.01 L494.10 371.43 L494.25 373.50 L494.40 370.92 L494.60 371.43 L495.70 364.99 L496.80 338.18 L497.70 305.57 L498.20 283.94 L498.50 301.24 L498.80 309.89 L499.00 308.81 L499.30 316.38 L500.00 330.19 L500.30 337.41 L500.45 334.83 L500.60 340.50 L500.75 337.92 L500.90 344.37 L502.20 376.33 L502.60 378.65 L503.10 386.90 L503.40 393.09 L503.45 393.09 L503.80 381.74 L504.15 374.01 L504.30 371.43 L504.45 373.50 L504.60 370.92 L504.80 371.43 L505.90 364.99 L507.00 338.18 L507.90 304.93 L508.40 283.14 L508.70 300.57 L509.00 309.28 L509.20 308.19 L509.50 315.82 L510.20 330.19 L510.50 337.41 L510.65 334.83 L510.80 340.50 L510.95 337.92 L511.10 344.37 L512.40 376.33 L512.80 378.65 L513.30 386.90 L513.60 393.09 L514.05 393.09 L514.40 381.74 L514.75 374.01 L514.90 371.43 L515.05 373.50 L515.20 370.92 L515.40 371.43 L516.50 364.99 L517.60 338.18 L518.50 314.52 L519.00 295.13 L519.30 310.64 L519.60 318.39 L519.80 317.42 L520.10 324.21 L520.80 330.19 L521.10 337.41 L521.25 334.83 L521.40 340.50 L521.55 337.92 L521.70 344.37 L523.00 376.33 L523.40 378.65 L523.90 386.90 L524.20 393.09 L524.05 393.09 L524.40 381.74 L524.75 374.01 L524.90 371.43 L525.05 373.50 L525.20 370.92 L525.40 371.43 L526.50 364.99 L527.60 338.18 L528.50 307.96 L529.00 286.93 L529.30 303.75 L529.60 312.16 L529.80 311.11 L530.10 318.47 L530.80 330.19 L531.10 337.41 L531.25 334.83 L531.40 340.50 L531.55 337.92 L531.70 344.37 L533.00 376.33 L533.40 378.65 L533.90 386.90 L534.20 393.09 L534.45 393.09 L534.80 381.74 L535.15 374.01 L535.30 371.43 L535.45 373.50 L535.60 370.92 L535.80 371.43 L536.90 364.99 L538.00 338.18 L538.90 301.11 L539.40 278.38 L544.90 392.06" stroke="#ff1a1a" stroke-width="0.95" fill="none" stroke-linejoin="round"/>
<line x1="502" y1="236" x2="513.3" y2="236" stroke="#ff4030" stroke-width="1.2"/>
<text class="sl" x="514.9" y="237.5" font-family='"Liberation Serif", serif' font-weight="bold" font-size="4.85" fill="#000">30% Strain</text>
<rect x="329.5" y="224.5" width="216.0" height="174.0" fill="none" stroke="#222" stroke-width="1"/>
<path d="M334.64 398.5v3 M344.93 398.5v1.6 M355.21 398.5v1.6 M365.50 398.5v1.6 M375.79 398.5v1.6 M386.07 398.5v3 M396.36 398.5v1.6 M406.64 398.5v1.6 M416.93 398.5v1.6 M427.21 398.5v1.6 M437.50 398.5v3 M447.79 398.5v1.6 M458.07 398.5v1.6 M468.36 398.5v1.6 M478.64 398.5v1.6 M488.93 398.5v3 M499.21 398.5v1.6 M509.50 398.5v1.6 M519.79 398.5v1.6 M530.07 398.5v1.6 M540.36 398.5v3 M329.5 398.50h-1.6 M329.5 392.06h-3 M329.5 385.61h-1.6 M329.5 379.17h-3 M329.5 372.72h-1.6 M329.5 366.28h-3 M329.5 359.83h-1.6 M329.5 353.39h-3 M329.5 346.94h-1.6 M329.5 340.50h-3 M329.5 334.06h-1.6 M329.5 327.61h-3 M329.5 321.17h-1.6 M329.5 314.72h-3 M329.5 308.28h-1.6 M329.5 301.83h-3 M329.5 295.39h-1.6 M329.5 288.94h-3 M329.5 282.50h-1.6 M329.5 276.06h-3 M329.5 269.61h-1.6 M329.5 263.17h-3 M329.5 256.72h-1.6 M329.5 250.28h-3 M329.5 243.83h-1.6 M329.5 237.39h-3 M329.5 230.94h-1.6 M329.5 224.50h-3" stroke="#222" stroke-width="1" fill="none"/>
<g class="sm" font-family='"Liberation Serif", serif' font-weight="bold" font-size="6.7" fill="#111"><text x="334.64" y="410.8" text-anchor="middle" textLength="3.65" lengthAdjust="spacingAndGlyphs">0</text><text x="386.07" y="410.8" text-anchor="middle" textLength="3.65" lengthAdjust="spacingAndGlyphs">5</text><text x="437.50" y="410.8" text-anchor="middle" textLength="7.30" lengthAdjust="spacingAndGlyphs">10</text><text x="488.93" y="410.8" text-anchor="middle" textLength="7.30" lengthAdjust="spacingAndGlyphs">15</text><text x="540.36" y="410.8" text-anchor="middle" textLength="7.30" lengthAdjust="spacingAndGlyphs">20</text><text x="323.8" y="394.36" text-anchor="end" textLength="3.65" lengthAdjust="spacingAndGlyphs">0</text><text x="323.8" y="381.47" text-anchor="end" textLength="7.30" lengthAdjust="spacingAndGlyphs">50</text><text x="323.8" y="368.58" text-anchor="end" textLength="10.95" lengthAdjust="spacingAndGlyphs">100</text><text x="323.8" y="355.69" text-anchor="end" textLength="10.95" lengthAdjust="spacingAndGlyphs">150</text><text x="323.8" y="342.80" text-anchor="end" textLength="10.95" lengthAdjust="spacingAndGlyphs">200</text><text x="323.8" y="329.91" text-anchor="end" textLength="10.95" lengthAdjust="spacingAndGlyphs">250</text><text x="323.8" y="317.02" text-anchor="end" textLength="10.95" lengthAdjust="spacingAndGlyphs">300</text><text x="323.8" y="304.13" text-anchor="end" textLength="10.95" lengthAdjust="spacingAndGlyphs">350</text><text x="323.8" y="291.24" text-anchor="end" textLength="10.95" lengthAdjust="spacingAndGlyphs">400</text><text x="323.8" y="278.36" text-anchor="end" textLength="10.95" lengthAdjust="spacingAndGlyphs">450</text><text x="323.8" y="265.47" text-anchor="end" textLength="10.95" lengthAdjust="spacingAndGlyphs">500</text><text x="323.8" y="252.58" text-anchor="end" textLength="10.95" lengthAdjust="spacingAndGlyphs">550</text><text x="323.8" y="239.69" text-anchor="end" textLength="10.95" lengthAdjust="spacingAndGlyphs">600</text><text x="323.8" y="226.80" text-anchor="end" textLength="10.95" lengthAdjust="spacingAndGlyphs">650</text></g>
<text transform="translate(300.8,309.6) rotate(-90)" text-anchor="middle" font-family='"Liberation Serif", serif' font-weight="bold" font-size="9.4" fill="#111">&#916;R/R<tspan font-size="5.83" dy="2">0</tspan><tspan dy="-2">(%)</tspan></text>
<text x="437.5" y="424.6" text-anchor="middle" font-family='"Liberation Serif", serif' font-weight="bold" font-size="9.6" fill="#111">Cycle number</text>
<text x="293.6" y="228.8" font-family='"Liberation Serif", serif' font-weight="bold" font-size="11.2" fill="#111" textLength="14.6" lengthAdjust="spacingAndGlyphs">(d)</text>
</svg>
</body></html>
